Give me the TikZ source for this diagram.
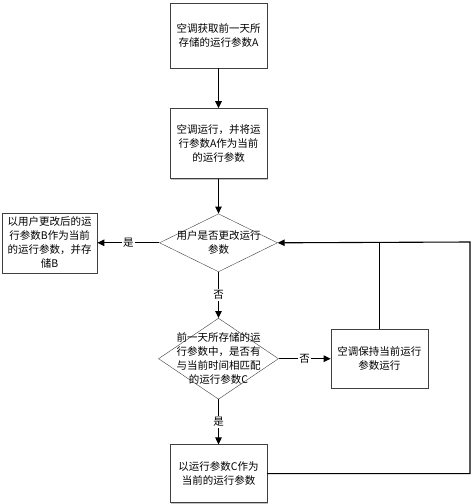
\documentclass[tikz,border=0pt]{standalone}
\usepackage{fontspec}
\setmainfont{Noto Sans CJK SC}
\usetikzlibrary{positioning,shapes.geometric,arrows.meta,shadows}
\tikzset{proc node/.style={rectangle,draw=black!75,fill=white,minimum width=97pt,inner sep=2pt,align=center,font=\fontsize{10.5}{14}\selectfont,drop shadow={shadow xshift=1.2pt,shadow yshift=-1.2pt,fill=black!40,opacity=0.6}}}
\tikzset{decide node/.style={diamond,draw=black!75,fill=white,inner sep=0pt}}
\tikzset{decide text/.style={font=\fontsize{10.5}{14}\selectfont,align=center}}
\tikzset{flow line/.style={draw,line width=1.1pt,-{Triangle[length=7pt,width=6.5pt]}}}
\tikzset{answer/.style={fill=white,inner sep=1pt,font=\fontsize{10.5}{12}\selectfont}}

\begin{document}
\begin{tikzpicture}[x=1pt,y=-1pt]
        \useasboundingbox[fill=white] (0,0) rectangle (474,504);
        \node[proc node,minimum height=65pt] (fetch) at (218.5,35.5) {空调获取前一天所\\存储的运行参数A};
        \node[proc node,minimum height=70pt] (run) [below = 40pt of fetch] {空调运行，并将运\\行参数A作为当前\\的运行参数};
        \node[decide node,minimum width=118pt,minimum height=58pt,
              label={[decide text]center:用户是否更改运行\\参数}] (change) [below = 35pt of run] {};
        \node[proc node,minimum width=95pt,minimum height=60pt] (useB) [left = 62pt of change] {以用户更改后的运\\行参数B作为当前\\的运行参数，并存\\储B};
        \node[decide node,minimum width=120pt,minimum height=81pt,
              label={[decide text]center:前一天所存储的运\\行参数中，是否有\\与当前时间相匹配\\的运行参数C}] (match) [below = 46pt of change] {};
        \node[proc node,minimum height=59pt] (keep) [right = 52pt of match] {空调保持当前运行\\参数运行};
        \node[proc node,minimum height=58pt] (useC) [below = 45pt of match] {以运行参数C作为\\当前的运行参数};
        \coordinate (loop) at (470,242);

        \path[flow line] (fetch) -- (run);
        \path[flow line] (run) -- (change);
        \path[flow line] (change.west) -- node[answer] {是} (useB.east);
        \path[flow line] (change.south) -- node[answer] {否} (match.north);
        \path[flow line] (match.east) -- node[answer] {否} (keep.west);
        \path[flow line] (match.south) -- node[answer] {是} (useC.north);
        \path[flow line] (useC.east) -- (useC.east -| loop) -- (loop) -- (change.east);
        \path[draw,line width=1.1pt] (keep.north) -- (keep.north |- loop);
    \end{tikzpicture}
\end{document}
